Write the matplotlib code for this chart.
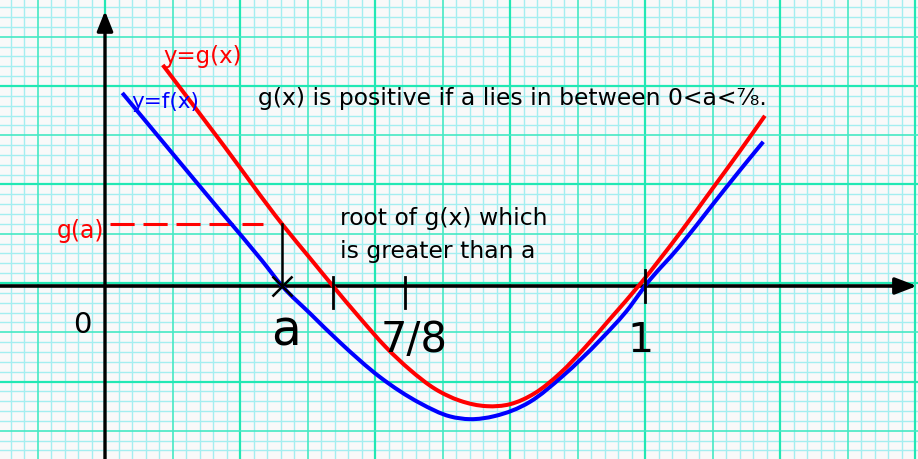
import numpy as np
import matplotlib
matplotlib.use('Agg')
import matplotlib.pyplot as plt
from matplotlib.path import Path
from matplotlib.patches import PathPatch

plt.rcParams['font.family'] = ['DejaVu Sans']

# curve y=f(x) (x: 0 at the y axis, 1 at the tick "1")
f_x = [0.032, 0.124, 0.217, 0.291, 0.328, 0.380, 0.435, 0.509, 0.583, 0.639,
       0.676, 0.722, 0.787, 0.848, 0.917, 0.972, 1.000, 1.065, 1.126, 1.176,
       1.219]
f_y = [0.490, 0.338, 0.185, 0.064, 0.000, -0.070, -0.143, -0.231, -0.297, -0.331,
       -0.338, -0.330, -0.294, -0.228, -0.137, -0.053, 0.000, 0.102, 0.208, 0.294,
       0.366]

# curve y=g(x)
g_x = [0.107, 0.219, 0.328, 0.380, 0.422, 0.472, 0.520, 0.565, 0.611, 0.657,
       0.707, 0.750, 0.796, 0.843, 0.889, 0.935, 0.991, 1.065, 1.126, 1.176,
       1.222]
g_y = [0.561, 0.358, 0.157, 0.070, 0.000, -0.081, -0.155, -0.213, -0.261, -0.291,
       -0.305, -0.300, -0.272, -0.221, -0.156, -0.084, 0.005, 0.135, 0.249, 0.343,
       0.432]

# marked points on the x axis
a_val = 0.328
ga_val = 0.157
root_val = 0.422
seven_eighths = 0.556
one_val = 1.0

tick_labels = ['a', '7/8', '1']


def smooth_path(xs, ys):
    # cubic bezier pieces through the read points, slopes from neighbours
    x = np.asarray(xs, float)
    y = np.asarray(ys, float)
    h = np.diff(x)
    d = np.diff(y) / h
    m = np.empty_like(x)
    m[0], m[-1] = d[0], d[-1]
    m[1:-1] = (h[1:] * d[:-1] + h[:-1] * d[1:]) / (h[:-1] + h[1:])
    verts = [(x[0], y[0])]
    codes = [Path.MOVETO]
    for i in range(len(x) - 1):
        t = h[i] / 3
        verts += [(x[i] + t, y[i] + m[i] * t),
                  (x[i + 1] - t, y[i + 1] - m[i + 1] * t),
                  (x[i + 1], y[i + 1])]
        codes += [Path.CURVE4] * 3
    return Path(verts, codes)


fig = plt.figure(figsize=(9.18, 4.59), dpi=100)
fig.patch.set_facecolor('#f9f9f9')
ax = fig.add_axes([0, 0, 1, 1])
ax.set_facecolor('#f9f9f9')
x0, x1 = -105 / 540, 813 / 540
y0, y1 = -173 / 394, 286 / 394
ax.set_xlim(x0, x1)
ax.set_ylim(y0, y1)
ax.axis('off')

# graph paper
step = 0.025
for k in range(int(x0 / step) - 1, int(x1 / step) + 2):
    xv = k * step
    if k % 10 == 0:
        ax.axvline(xv, color='#22e8b4', lw=1.6, zorder=1)
    elif k % 5 == 0:
        ax.axvline(xv, color='#45e9c4', lw=1.2, zorder=1)
    else:
        ax.axvline(xv, color='#a4eef0', lw=1.0, zorder=0.5)
off = 3 / 394
for k in range(int(y0 / step) - 2, int(y1 / step) + 2):
    yv = off + k * step
    if k % 10 == 0:
        ax.axhline(yv, color='#22e8b4', lw=1.6, zorder=1)
    elif k % 5 == 0:
        ax.axhline(yv, color='#45e9c4', lw=1.2, zorder=1)
    else:
        ax.axhline(yv, color='#a4eef0', lw=1.0, zorder=0.5)

# axes with arrows
ax.annotate('', xy=(0, 275 / 394), xytext=(0, y0),
            arrowprops=dict(arrowstyle='-|>,head_length=12,head_width=4.8',
                            mutation_scale=1, lw=2.4, color='black',
                            shrinkA=0, shrinkB=0), zorder=3)
ax.annotate('', xy=(812 / 540, 0), xytext=(x0, 0),
            arrowprops=dict(arrowstyle='-|>,head_length=13,head_width=5',
                            mutation_scale=1, lw=2.6, color='black',
                            shrinkA=0, shrinkB=0), zorder=3)

# curves
ax.add_patch(PathPatch(smooth_path(f_x, f_y), fill=False, edgecolor='#0000ff',
                       lw=2.9, capstyle='butt', zorder=4))
ax.add_patch(PathPatch(smooth_path(g_x, g_y), fill=False, edgecolor='#ff0000',
                       lw=2.9, capstyle='butt', zorder=4))

# g(a) guide lines
ax.plot([5 / 540, 158 / 540], [ga_val, ga_val], color='#ff0000', lw=2.2,
        dashes=(7.9, 2.9), zorder=3)
ax.plot([a_val, a_val], [0, ga_val], color='black', lw=1.8, zorder=5)
ax.plot([a_val], [0], marker='x', color='black', ms=15, mew=1.8, zorder=5)

# ticks on x axis
for xv, h in [(root_val, (0.023, -0.056)), (seven_eighths, (0.023, -0.056)),
              (one_val, (0.041, -0.041))]:
    ax.plot([xv, xv], list(h), color='black', lw=2.0, zorder=5)

# labels
ax.text(0.108, 0.566, 'y=g(x)', color='#ff0000', fontsize=16.5, zorder=6)
ax.text(0.048, 0.452, 'y=f(x)', color='#0000ff', fontsize=15.5, zorder=6)
ax.text(0.284, 0.459, 'g(x) is positive if a lies in between 0<a<\u215e.',
        color='black', fontsize=16.9, zorder=6)
ax.text(0.435, 0.155, 'root of g(x) which', color='black', fontsize=16.9, zorder=6)
ax.text(0.435, 0.071, 'is greater than a', color='black', fontsize=16.9, zorder=6)
ax.text(-0.002, 0.122, 'g(a)', color='#ff0000', fontsize=17, ha='right', zorder=6)
ax.text(-0.059, -0.119, '0', color='black', fontsize=21, zorder=6)
ax.text(0.307, -0.150, tick_labels[0], color='black', fontsize=35, zorder=6)
ax.text(0.510, -0.168, tick_labels[1], color='black', fontsize=30, zorder=6)
ax.text(0.968, -0.168, tick_labels[2], color='black', fontsize=29.5, zorder=6)

fig.savefig('out.png', dpi=100, facecolor=fig.get_facecolor())
